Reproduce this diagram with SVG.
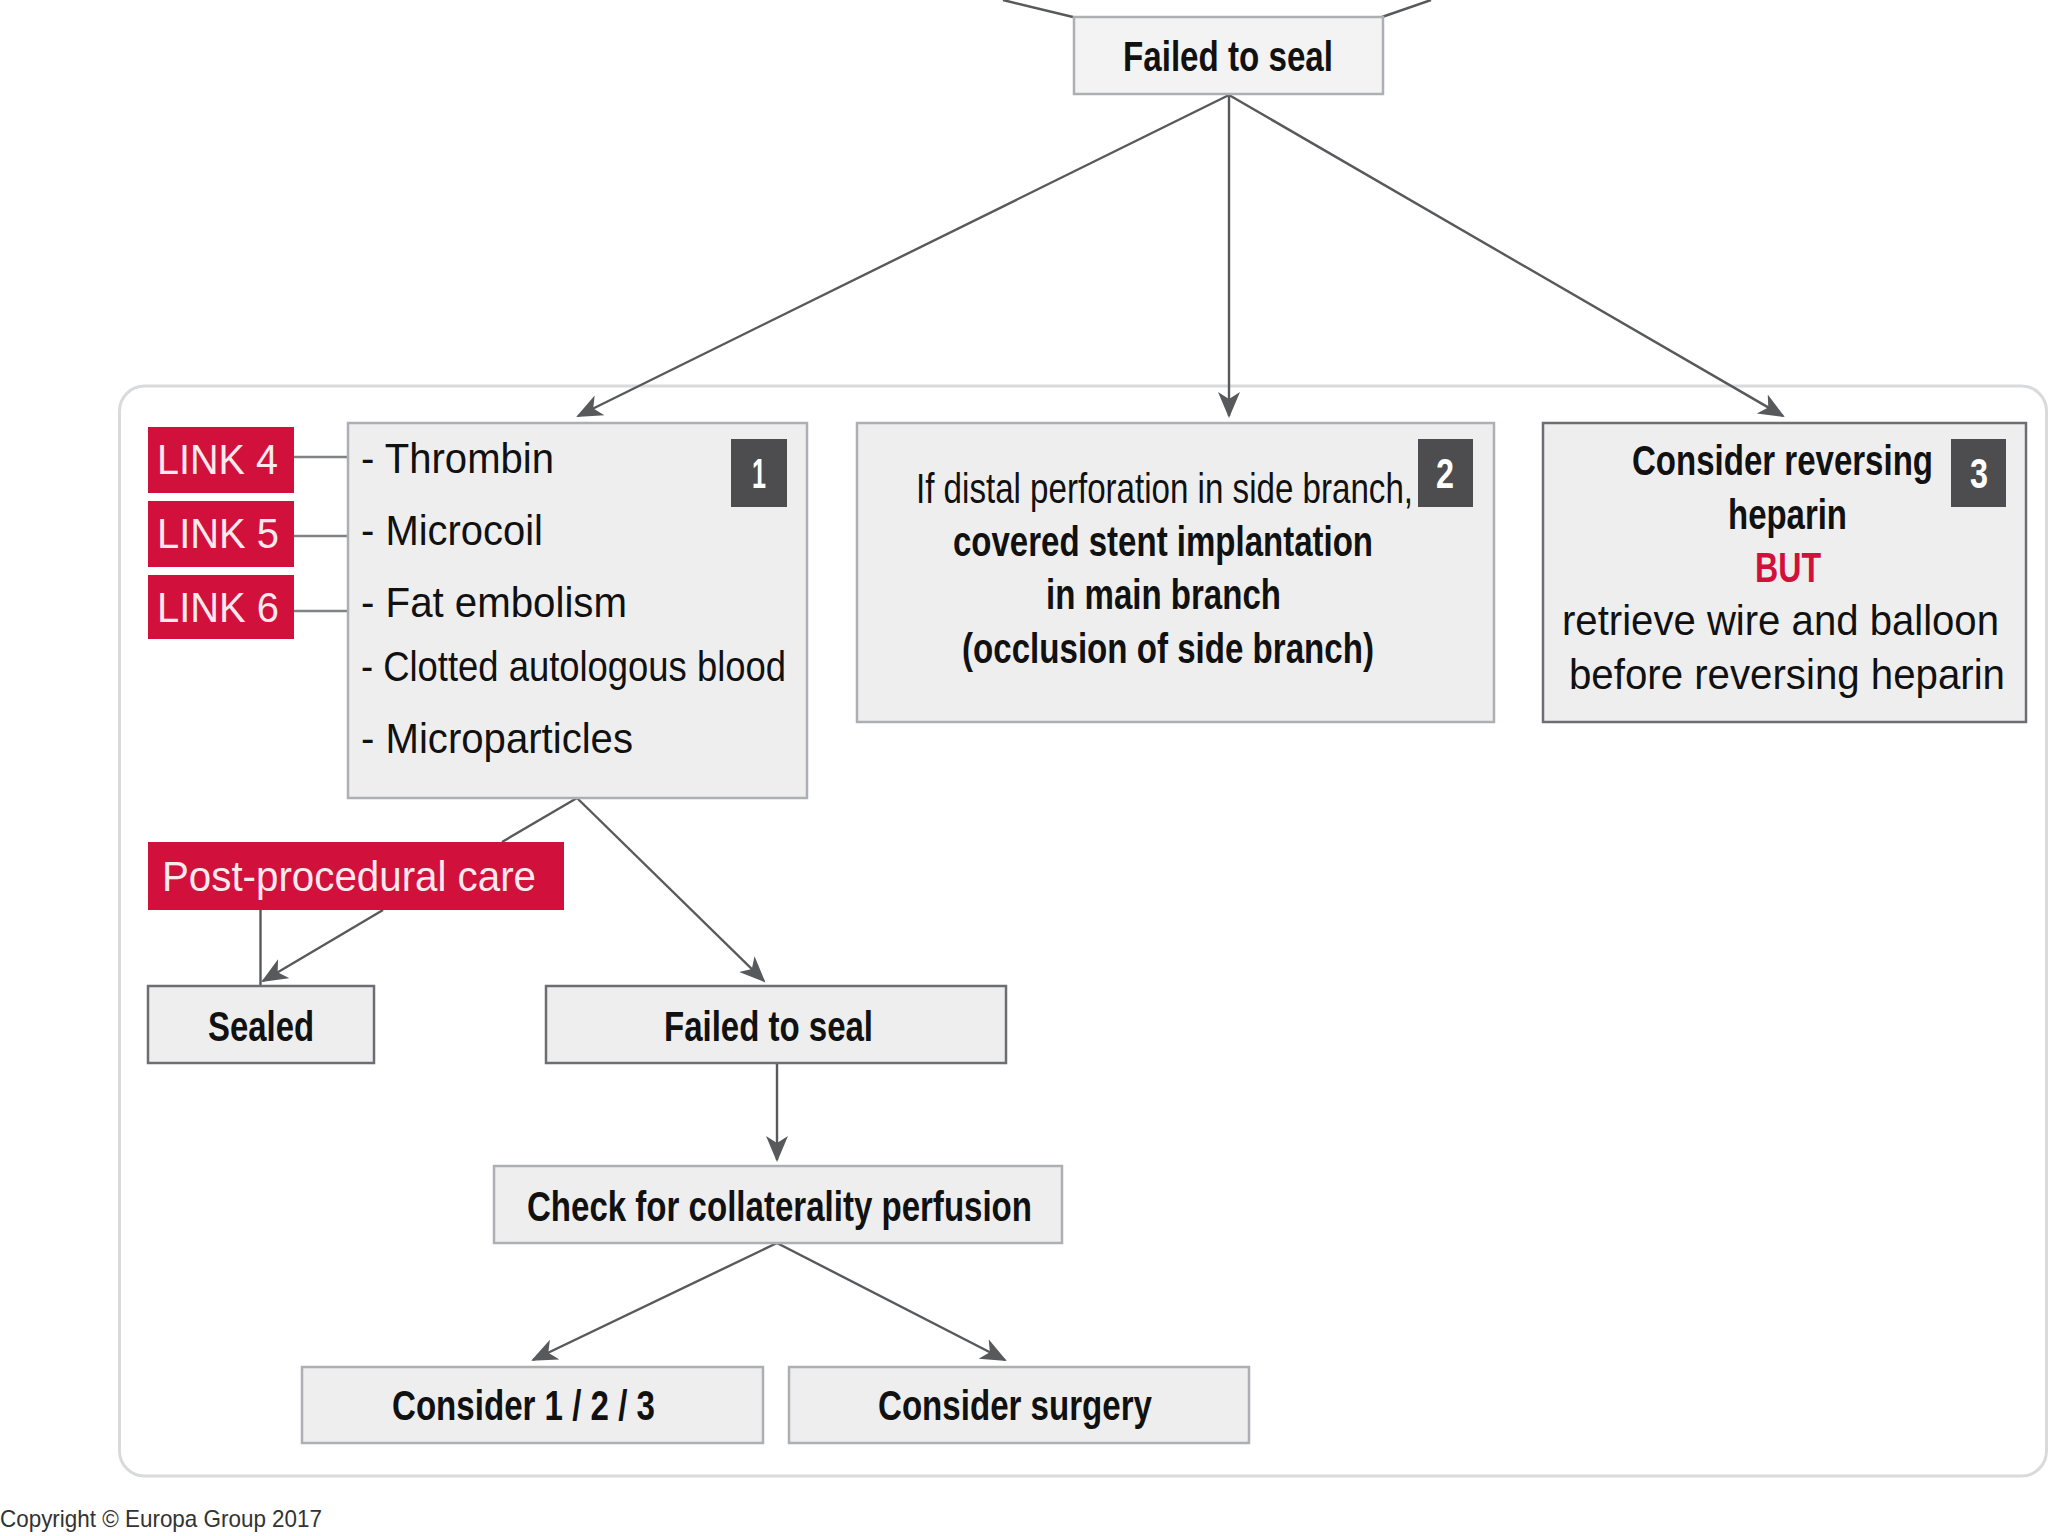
<svg xmlns="http://www.w3.org/2000/svg" width="2048" height="1536" viewBox="0 0 2048 1536">
<style>
text{font-family:"Liberation Sans",Arial,sans-serif;font-size:43px;fill:#111}
.b{font-weight:700}
.w{fill:#fbe9ec}
.box{fill:#eeeeef;stroke:#adafb2;stroke-width:2.5}
.dark{fill:#eeeeef;stroke:#6d6e71;stroke-width:2.5}
.red{fill:#d2103c}
.badge{fill:#4d4d4f}
.n{fill:#fff;font-weight:700;font-size:42px;text-anchor:middle}
.ln{stroke:#58595b;stroke-width:2.4;fill:none}
.ar{stroke:#58595b;stroke-width:2.4;fill:none;marker-end:url(#a)}
.lk{stroke:#808285;stroke-width:2.4;fill:none}
</style>
<defs>
<marker id="a" markerUnits="userSpaceOnUse" markerWidth="28" markerHeight="24" refX="24" refY="11" orient="auto" viewBox="0 0 28 22">
<path d="M0 0L26 11L0 22L7 11Z" fill="#58595b"/>
</marker>
</defs>
<rect width="2048" height="1536" fill="#fff"/>
<rect id="container" x="119.500" y="386" width="1927" height="1090" rx="25" fill="#fff" stroke="#d9dadb" stroke-width="3"/>
<g id="connectors">
<path class="ln" d="M1003 0L1073 17"/>
<path class="ln" d="M1431 0L1382 17"/>
<path class="ar" d="M1229 95L578 416"/>
<path class="ar" d="M1229 95V416"/>
<path class="ar" d="M1229 95L1783 416"/>
<path class="lk" d="M294 457H348M294 536H348M294 611H348"/>
<path class="ln" d="M577 798L502 842"/>
<path class="ar" d="M383 910L263 981"/>
<path class="ln" d="M260.500 910V986"/>
<path class="ar" d="M577 798L764 981"/>
<path class="ar" d="M777 1063V1160"/>
<path class="ar" d="M777 1243L533 1360"/>
<path class="ar" d="M777 1243L1005 1360"/>
</g>
<g id="top-failed"><rect class="box" x="1074" y="17" width="309" height="77" style="fill:#f3f3f3"/><text class="b" x="1123" y="71" textLength="210" lengthAdjust="spacingAndGlyphs">Failed to seal</text></g>
<g id="link4"><rect class="red" x="148" y="427" width="146" height="66"/><text class="w" x="157" y="474" textLength="121" lengthAdjust="spacingAndGlyphs">LINK 4</text></g>
<g id="link5"><rect class="red" x="148" y="501" width="146" height="66"/><text class="w" x="157" y="548" textLength="122" lengthAdjust="spacingAndGlyphs">LINK 5</text></g>
<g id="link6"><rect class="red" x="148" y="575" width="146" height="64"/><text class="w" x="157" y="622" textLength="122" lengthAdjust="spacingAndGlyphs">LINK 6</text></g>
<g id="option1"><rect class="box" x="348" y="423" width="459" height="375"/>
<text x="361" y="473" textLength="193" lengthAdjust="spacingAndGlyphs">- Thrombin</text>
<text x="361" y="545" textLength="182" lengthAdjust="spacingAndGlyphs">- Microcoil</text>
<text x="361" y="617" textLength="266" lengthAdjust="spacingAndGlyphs">- Fat embolism</text>
<text x="361" y="681" textLength="425" lengthAdjust="spacingAndGlyphs">- Clotted autologous blood</text>
<text x="361" y="753" textLength="272" lengthAdjust="spacingAndGlyphs">- Microparticles</text>
<rect class="badge" x="731" y="439" width="56" height="68"/><text class="n" x="759" y="488" textLength="14" lengthAdjust="spacingAndGlyphs">1</text></g>
<g id="option2"><rect class="box" x="857" y="423" width="637" height="299"/>
<text x="916" y="503" textLength="497" lengthAdjust="spacingAndGlyphs">If distal perforation in side branch,</text>
<text class="b" x="953" y="556" textLength="420" lengthAdjust="spacingAndGlyphs">covered stent implantation</text>
<text class="b" x="1046" y="609" textLength="235" lengthAdjust="spacingAndGlyphs">in main branch</text>
<text class="b" x="962" y="663" textLength="412" lengthAdjust="spacingAndGlyphs">(occlusion of side branch)</text>
<rect class="badge" x="1418" y="439" width="55" height="68"/><text class="n" x="1445" y="488" textLength="18" lengthAdjust="spacingAndGlyphs">2</text></g>
<g id="option3"><rect class="dark" x="1543" y="423" width="483" height="299"/>
<text class="b" x="1632" y="475" textLength="301" lengthAdjust="spacingAndGlyphs">Consider reversing</text>
<text class="b" x="1728" y="529" textLength="119" lengthAdjust="spacingAndGlyphs">heparin</text>
<text class="b" x="1755" y="582" textLength="66" lengthAdjust="spacingAndGlyphs" style="fill:#d2103c">BUT</text>
<text x="1562" y="635" textLength="437" lengthAdjust="spacingAndGlyphs">retrieve wire and balloon</text>
<text x="1569" y="689" textLength="436" lengthAdjust="spacingAndGlyphs">before reversing heparin</text>
<rect class="badge" x="1951" y="439" width="55" height="68"/><text class="n" x="1979" y="488" textLength="18" lengthAdjust="spacingAndGlyphs">3</text></g>
<g id="post-care"><rect class="red" x="148" y="842" width="416" height="68"/><text class="w" x="162" y="891" textLength="374" lengthAdjust="spacingAndGlyphs">Post-procedural care</text></g>
<g id="sealed"><rect class="dark" x="148" y="986" width="226" height="77"/><text class="b" x="208" y="1041" textLength="106" lengthAdjust="spacingAndGlyphs">Sealed</text></g>
<g id="failed"><rect class="dark" x="546" y="986" width="460" height="77"/><text class="b" x="664" y="1041" textLength="209" lengthAdjust="spacingAndGlyphs">Failed to seal</text></g>
<g id="check"><rect class="box" x="494" y="1166" width="568" height="77"/><text class="b" x="527" y="1221" textLength="505" lengthAdjust="spacingAndGlyphs">Check for collaterality perfusion</text></g>
<g id="consider123"><rect class="box" x="302" y="1367" width="461" height="76"/><text class="b" x="392" y="1420" textLength="263" lengthAdjust="spacingAndGlyphs">Consider 1 / 2 / 3</text></g>
<g id="surgery"><rect class="box" x="789" y="1367" width="460" height="76"/><text class="b" x="878" y="1420" textLength="274" lengthAdjust="spacingAndGlyphs">Consider surgery</text></g>
<text x="0" y="1527" textLength="322" lengthAdjust="spacingAndGlyphs" style="font-size:24px;fill:#333">Copyright © Europa Group 2017</text>
</svg>
